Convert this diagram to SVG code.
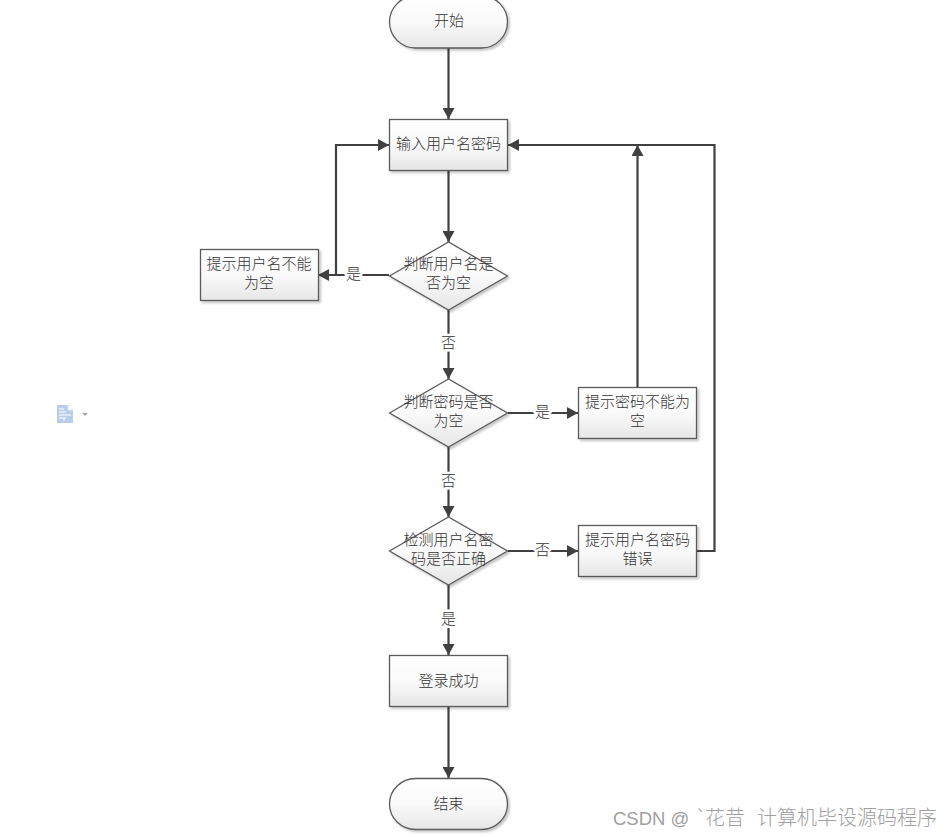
<svg xmlns="http://www.w3.org/2000/svg" width="952" height="837" viewBox="0 0 952 837">
<style>
.n{fill:url(#g);stroke:#5a5a5a;stroke-width:1.3;filter:url(#s)}
.t{font-family:"Noto Sans CJK SC","Liberation Serif",serif;font-size:15px;font-weight:300;fill:#333;text-anchor:middle}
.l{paint-order:stroke;stroke:#fff;stroke-width:5px;stroke-linejoin:round}
.c{fill:none;stroke:#404040;stroke-width:2.200;marker-end:url(#a)}
.w{font-family:"Liberation Sans","Noto Sans CJK SC",sans-serif;font-size:18.500px;fill:#a0a0a0}
.x{font-family:"Noto Sans CJK SC","Liberation Sans",sans-serif;font-size:20px;font-weight:300;fill:#a0a0a0}
</style>
<defs>
<linearGradient id="g" x1="0" y1="0" x2="0" y2="1"><stop offset="0" stop-color="#fff"/><stop offset="0.5" stop-color="#fafafa"/><stop offset="1" stop-color="#e6e6e6"/></linearGradient>
<filter id="s" x="-10%" y="-10%" width="125%" height="130%"><feDropShadow dx="2" dy="2" stdDeviation="1.2" flood-color="#000" flood-opacity="0.22"/></filter>
<marker id="a" markerUnits="userSpaceOnUse" markerWidth="12" markerHeight="12" refX="11" refY="6" orient="auto"><path d="M0 0L11 6L0 12Z" fill="#404040"/></marker>
</defs>
<rect width="952" height="837" fill="#fff"/>
<g id="icon">
<path d="M57 405H68L73 410V423H57Z" fill="#b9cde9"/>
<path d="M68 405V410H73" fill="#fff" stroke="#dfe8f5"/>
<path d="M59 409H64M59 412H66M59 415H71M59 418H66M64 418V421" stroke="#fff" stroke-width="1" fill="none"/>
<path d="M82 413H88L85 416Z" fill="#a8a8a8"/>
</g>
<g id="connectors">
<path class="c" d="M448.500 48V119"/>
<path class="c" d="M448.500 171V242"/>
<path class="c" d="M448.500 310V379"/>
<path class="c" d="M448.500 447V517"/>
<path class="c" d="M448.500 585V655"/>
<path class="c" d="M448.500 707V778"/>
<path class="c" d="M389 275H318"/>
<path class="c" d="M336 275V145H389"/>
<path class="c" d="M508 413H578"/>
<path class="c" d="M508 551H578"/>
<path class="c" d="M637.500 387V145"/>
<path class="c" d="M697 551H714.500V145H508"/>
</g>
<g id="start"><rect class="n" x="389.500" y="-4" width="118" height="52" rx="26" ry="26"/><text class="t" x="449" y="26">开始</text></g>
<g id="input"><rect class="n" x="389.500" y="119.500" width="118" height="51"/><text class="t" x="448.500" y="149">输入用户名密码</text></g>
<g id="emptyUser"><rect class="n" x="200.500" y="249.500" width="118" height="51"/><text class="t" x="259" y="269">提示用户名不能</text><text class="t" x="259" y="288">为空</text></g>
<g id="checkUser"><path class="n" d="M389.500 276L448.500 242L507.500 276L448.500 310Z"/><text class="t" x="448.500" y="269">判断用户名是</text><text class="t" x="448.500" y="288">否为空</text></g>
<g id="checkPass"><path class="n" d="M389.500 413L448.500 379L507.500 413L448.500 447Z"/><text class="t" x="448.500" y="407">判断密码是否</text><text class="t" x="448.500" y="426">为空</text></g>
<g id="emptyPass"><rect class="n" x="578.500" y="387.500" width="118" height="51"/><text class="t" x="637.500" y="407">提示密码不能为</text><text class="t" x="637.500" y="426">空</text></g>
<g id="checkBoth"><path class="n" d="M389.500 551L448.500 517L507.500 551L448.500 585Z"/><text class="t" x="448.500" y="545">检测用户名密</text><text class="t" x="448.500" y="564">码是否正确</text></g>
<g id="wrong"><rect class="n" x="578.500" y="525.500" width="118" height="51"/><text class="t" x="637.500" y="545">提示用户名密码</text><text class="t" x="637.500" y="564">错误</text></g>
<g id="success"><rect class="n" x="389.500" y="655.500" width="118" height="51"/><text class="t" x="448.500" y="686">登录成功</text></g>
<g id="end"><rect class="n" x="389.500" y="778.500" width="118" height="51" rx="26" ry="26"/><text class="t" x="448.500" y="809">结束</text></g>
<g id="labels">
<text class="t l" x="353.500" y="279">是</text>
<text class="t l" x="448.500" y="348">否</text>
<text class="t l" x="542.500" y="417">是</text>
<text class="t l" x="448.500" y="486">否</text>
<text class="t l" x="542.500" y="555">否</text>
<text class="t l" x="448.500" y="624">是</text>
</g>
<g id="watermark">
<text class="w" x="613" y="825">CSDN @</text>
<text class="x" x="695" y="825">`</text>
<text class="x" x="705" y="825">花昔</text>
<text class="x" x="757" y="825">计算机毕设源码程序</text>
</g>
</svg>
